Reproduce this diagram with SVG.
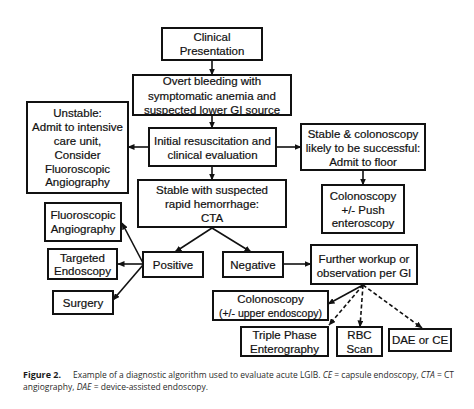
<svg xmlns="http://www.w3.org/2000/svg" width="474" height="409" viewBox="0 0 474 409">
<style>
.box{fill:#fff;stroke:#111;stroke-width:2}
.t{font-family:"Liberation Sans",Arial,sans-serif;font-size:11.5px;fill:#111;stroke:#111;stroke-width:0.2;text-anchor:middle}
.c{stroke:#111;stroke-width:1.6;fill:none}
.d{stroke-dasharray:4 2.5}
.cap{font-family:"Open Sans","Liberation Sans",sans-serif;font-size:8.5px;fill:#2a2a2a}
</style>
<defs>
<marker id="ah" markerUnits="userSpaceOnUse" markerWidth="7" markerHeight="6" refX="6.5" refY="3" orient="auto">
<path d="M0,0 L7,3 L0,6 z" fill="#111"/>
</marker>
</defs>
<rect width="474" height="409" fill="#fff"/>
<g id="connectors">
<line class="c" x1="212" y1="60" x2="212" y2="75" marker-end="url(#ah)"/>
<line class="c" x1="212" y1="115" x2="212" y2="128" marker-end="url(#ah)"/>
<line class="c" x1="212" y1="166" x2="212" y2="180" marker-end="url(#ah)"/>
<line class="c" x1="149" y1="147" x2="128" y2="147" marker-end="url(#ah)"/>
<line class="c" x1="276" y1="147" x2="301" y2="147" marker-end="url(#ah)"/>
<line class="c" x1="363" y1="170" x2="363" y2="185" marker-end="url(#ah)"/>
<line class="c" x1="212" y1="228" x2="175" y2="252" marker-end="url(#ah)"/>
<line class="c" x1="212" y1="228" x2="251" y2="252" marker-end="url(#ah)"/>
<line class="c" x1="283" y1="264" x2="311" y2="264" marker-end="url(#ah)"/>
<line class="c" x1="143" y1="263" x2="122" y2="223" marker-end="url(#ah)"/>
<line class="c" x1="143" y1="264" x2="118" y2="264" marker-end="url(#ah)"/>
<line class="c" x1="143" y1="265" x2="113" y2="300" marker-end="url(#ah)"/>
<line class="c" x1="363" y1="285" x2="328" y2="304" marker-end="url(#ah)"/>
<line class="c d" x1="363" y1="285" x2="329" y2="325" marker-end="url(#ah)"/>
<line class="c d" x1="363" y1="285" x2="360" y2="327" marker-end="url(#ah)"/>
<line class="c d" x1="363" y1="285" x2="422" y2="328" marker-end="url(#ah)"/>
</g>
<g id="clinical"><rect class="box" x="162" y="28" width="100" height="32"/>
<text class="t" x="212" y="41">Clinical</text><text class="t" x="212" y="55">Presentation</text></g>
<g id="overt"><rect class="box" x="133" y="75" width="158" height="40"/>
<text class="t" x="212" y="85">Overt bleeding with</text><text class="t" x="212" y="99.5">symptomatic anemia and</text><text class="t" x="212" y="113.5">suspected lower GI source</text></g>
<g id="initial"><rect class="box" x="149" y="128" width="127" height="38"/>
<text class="t" x="212.5" y="145">Initial resuscitation and</text><text class="t" x="212.5" y="159">clinical evaluation</text></g>
<g id="unstable"><rect class="box" x="27" y="102" width="101" height="91"/>
<text class="t" x="77.5" y="117">Unstable:</text><text class="t" x="77.5" y="131">Admit to intensive</text><text class="t" x="77.5" y="145">care unit,</text><text class="t" x="77.5" y="158.5">Consider</text><text class="t" x="77.5" y="172.5">Fluoroscopic</text><text class="t" x="77.5" y="186">Angiography</text></g>
<g id="stablecol"><rect class="box" x="301" y="124" width="124" height="46"/>
<text class="t" x="363" y="138">Stable &amp; colonoscopy</text><text class="t" x="363" y="152">likely to be successful:</text><text class="t" x="363" y="166">Admit to floor</text></g>
<g id="colpush"><rect class="box" x="322" y="185" width="82" height="48"/>
<text class="t" x="363" y="200">Colonoscopy</text><text class="t" x="363" y="213.5">+/- Push</text><text class="t" x="363" y="227">enteroscopy</text></g>
<g id="stablecta"><rect class="box" x="138" y="180" width="148" height="47"/>
<text class="t" x="212" y="194">Stable with suspected</text><text class="t" x="212" y="208">rapid hemorrhage:</text><text class="t" x="212" y="222">CTA</text></g>
<g id="positive"><rect class="box" x="143" y="252" width="60" height="25"/>
<text class="t" x="173" y="269">Positive</text></g>
<g id="negative"><rect class="box" x="223" y="252" width="60" height="25"/>
<text class="t" x="253" y="269">Negative</text></g>
<g id="further"><rect class="box" x="311" y="245" width="106" height="39"/>
<text class="t" x="364" y="263">Further workup or</text><text class="t" x="364" y="276.5">observation per GI</text></g>
<g id="fluoro"><rect class="box" x="45" y="203" width="76" height="38"/>
<text class="t" x="83" y="219">Fluoroscopic</text><text class="t" x="83" y="233">Angiography</text></g>
<g id="targeted"><rect class="box" x="48" y="249" width="69" height="30"/>
<text class="t" x="82.5" y="262">Targeted</text><text class="t" x="82.5" y="275">Endoscopy</text></g>
<g id="surgery"><rect class="box" x="53" y="291" width="60" height="23"/>
<text class="t" x="83" y="307">Surgery</text></g>
<g id="colupper"><rect class="box" x="213" y="291" width="115" height="29"/>
<text class="t" x="270.5" y="303">Colonoscopy</text><text class="t" x="270.5" y="317" style="font-size:10.5px">(+/- upper endoscopy)</text></g>
<g id="triple"><rect class="box" x="241" y="327" width="87" height="29"/>
<text class="t" x="284.5" y="339">Triple Phase</text><text class="t" x="284.5" y="353">Enterography</text></g>
<g id="rbc"><rect class="box" x="337" y="327" width="45" height="29"/>
<text class="t" x="359.5" y="339">RBC</text><text class="t" x="359.5" y="353">Scan</text></g>
<g id="dae"><rect class="box" x="389" y="329" width="62" height="22"/>
<text class="t" x="420" y="344">DAE or CE</text></g>
<g id="caption">
<text class="cap" x="23" y="378" style="font-weight:bold;fill:#1a1a1a" textLength="38" lengthAdjust="spacingAndGlyphs">Figure 2.</text>
<text class="cap" x="73" y="378" textLength="381" lengthAdjust="spacingAndGlyphs">Example of a diagnostic algorithm used to evaluate acute LGIB. <tspan font-style="italic">CE</tspan> = capsule endoscopy, <tspan font-style="italic">CTA</tspan> = CT</text>
<text class="cap" x="23" y="389.5" textLength="185" lengthAdjust="spacingAndGlyphs">angiography, <tspan font-style="italic">DAE</tspan> = device-assisted endoscopy.</text>
</g>
</svg>
